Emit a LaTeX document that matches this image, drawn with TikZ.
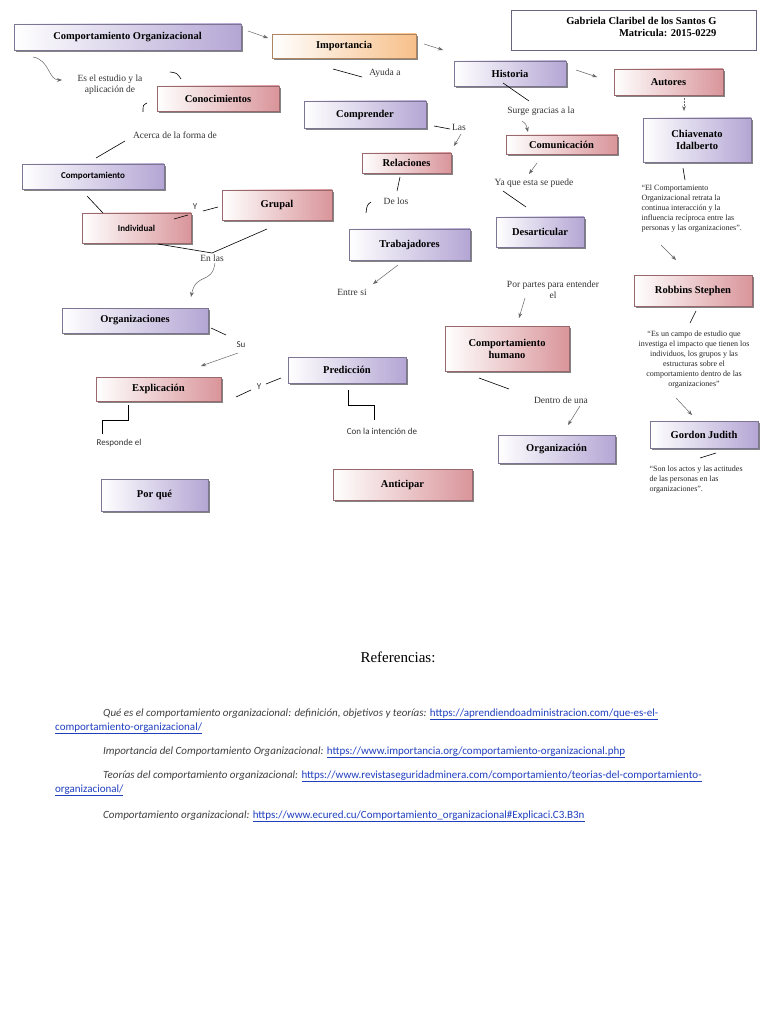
\documentclass[tikz,border=0pt]{standalone}
\usepackage{fontspec}
\setmainfont{Liberation Serif}
\newfontfamily\sansf{Carlito}
\usetikzlibrary{shadows,arrows.meta}
\definecolor{pboxc}{HTML}{B4A6D4}
\definecolor{rboxc}{HTML}{D9959A}
\definecolor{oboxc}{HTML}{F7C08A}
\definecolor{linkc}{HTML}{1F3FBF}
\newcommand{\reflink}[1]{\textcolor{linkc}{\upshape\underline{#1}}}

\begin{document}
\begin{tikzpicture}[x=1pt,y=-1pt,
    box/.style={draw=#1!70!black, line width=0.5pt, left color=white, right color=#1,
        drop shadow={shadow xshift=2pt, shadow yshift=-2pt, fill=black!60, opacity=0.8},
        font=\fontsize{10.5}{12}\selectfont\bfseries, align=center, inner sep=1pt},
    pbox/.style={box=pboxc},
    rbox/.style={box=rboxc},
    obox/.style={box=oboxc},
    lab/.style={font=\fontsize{9.5}{11}\selectfont, align=center, text=black!80},
    slab/.style={font=\sansf\fontsize{9}{10.5}\selectfont, align=center, text=black!80},
    quote/.style={font=\fontsize{8}{10}\selectfont, text=black!85},
    arr/.style={-{Stealth[length=5pt]}, gray!80!black, line width=0.5pt},
    ln/.style={black, line width=0.6pt}]
    \useasboundingbox (0,0) rectangle (768,1024);
    \fill[white] (0,0) rectangle (768,1024);
    % boxes
    \node[pbox, minimum width=227pt, minimum height=26pt] (corg) at (127.5,37) {Comportamiento Organizacional};
    \node[obox, minimum width=144pt, minimum height=24pt] (imp) at (344,46) {Importancia};
    \node[draw=pboxc!60!black, line width=0.8pt, minimum width=245pt, minimum height=40pt] (hdr) at (633.5,30) {};
    \node[font=\fontsize{10.5}{12}\selectfont\bfseries, align=right, anchor=north east] at (720,14) {Gabriela Claribel de los Santos G\\Matricula: 2015-0229};
    \node[pbox, minimum width=112pt, minimum height=25pt] (hist) at (510,73.5) {Historia};
    \node[rbox, minimum width=109pt, minimum height=26pt] (aut) at (668.5,82) {Autores};
    \node[rbox, minimum width=122pt, minimum height=25pt] (conoc) at (218,98.5) {Conocimientos};
    \node[pbox, minimum width=122pt, minimum height=27pt] (compr) at (365,114.5) {Comprender};
    \node[pbox, minimum width=108pt, minimum height=44pt] (chia) at (697,140) {Chiavenato\\Idalberto};
    \node[rbox, minimum width=111pt, minimum height=19pt] (comu) at (561.5,144.5) {Comunicación};
    \node[rbox, minimum width=89pt, minimum height=20pt] (rel) at (406.5,163) {Relaciones};
    \node[pbox, minimum width=142pt, minimum height=25pt, font=\sansf\fontsize{9}{10}\selectfont\bfseries] (cmp) at (93,176.5) {Comportamiento};
    \node[rbox, minimum width=110pt, minimum height=30pt] (grup) at (277,205) {Grupal};
    \node[rbox, minimum width=109pt, minimum height=30pt, font=\sansf\fontsize{9}{10}\selectfont\bfseries] (indiv) at (136.5,228) {Individual};
    \node[pbox, minimum width=88pt, minimum height=30pt] (desa) at (540,232) {Desarticular};
    \node[pbox, minimum width=121pt, minimum height=31pt] (trab) at (409.5,244.5) {Trabajadores};
    \node[rbox, minimum width=118pt, minimum height=31pt] (robb) at (693,290.5) {Robbins Stephen};
    \node[pbox, minimum width=146pt, minimum height=25pt] (orgs) at (135,320.5) {Organizaciones};
    \node[rbox, minimum width=124pt, minimum height=45pt] (chum) at (507,348.5) {Comportamiento\\humano};
    \node[pbox, minimum width=118pt, minimum height=26pt] (pred) at (347,370) {Predicción};
    \node[rbox, minimum width=125pt, minimum height=24pt] (expl) at (158.5,389) {Explicación};
    \node[pbox, minimum width=108pt, minimum height=27pt] (gord) at (704,434.5) {Gordon Judith};
    \node[pbox, minimum width=117pt, minimum height=28pt] (orgn) at (556.5,449) {Organización};
    \node[pbox, minimum width=107pt, minimum height=32pt] (porq) at (154.5,495) {Por qué};
    \node[rbox, minimum width=139pt, minimum height=31pt] (anti) at (402.5,484.5) {Anticipar};
    % labels
    \node[lab] (estud) at (110,85) {Es el estudio y la\\aplicación de};
    \node[lab] (ayuda) at (385,73) {Ayuda a};
    \node[lab] (acerca) at (175,135) {Acerca de la forma de};
    \node[lab] (surge) at (541,111) {Surge gracias a la};
    \node[lab] (las) at (459,127) {Las};
    \node[lab] (yaque) at (534,183) {Ya que esta se puede};
    \node[lab] (delos) at (396,201) {De los};
    \node[slab] (y1) at (195,207) {Y};
    \node[lab] (enlas) at (212,258) {En las};
    \node[lab] (entre) at (352,292) {Entre si};
    \node[lab] (porpar) at (553,290) {Por partes para entender\\el};
    \node[slab] (su) at (241,345) {Su};
    \node[slab] (y2) at (259,387) {Y};
    \node[slab] (resp) at (119,443) {Responde el};
    \node[slab] (conla) at (382,431) {Con la intención de};
    \node[lab] (dentro) at (561,400) {Dentro de una};
    \node[quote, anchor=north west, align=left] (q1) at (638,181) {``El Comportamiento\\Organizacional retrata la\\continua interacción y la\\influencia recíproca entre las\\personas y las organizaciones''.};
    \node[quote, align=center] (q2) at (694,360) {``Es un campo de estudio que\\investiga el impacto que tienen los\\individuos, los grupos y las\\estructuras sobre el\\comportamiento dentro de las\\organizaciones''};
    \node[quote, anchor=north west, align=left] (q3) at (646,462) {``Son los actos y las actitudes\\de las personas en las\\organizaciones''.};
    % connectors
    \draw[arr] (248,31) -- (268,38);
    \draw[arr] (424,44) -- (443,50);
    \draw[arr] (576,70) -- (597,77);
    \draw[arr, densely dotted] (684,98) -- (684,111);
    \draw[arr] (33,57) .. controls (50,60) and (48,80) .. (62,80);
    \draw[ln] (170,72) .. controls (177,73) .. (181,79);
    \draw[ln] (143,112) .. controls (143,105) .. (147,103);
    \draw[ln] (96,158) -- (125,141);
    \draw[ln] (333,69) -- (362,77);
    \draw[ln] (503,83) -- (529,101);
    \draw[arr] (522,121) .. controls (526,124) .. (528,132);
    \draw[ln] (434,126) -- (450,129);
    \draw[arr] (461,134) -- (454,146);
    \draw[arr] (537,163) -- (529,174);
    \draw[ln] (503,191) -- (526,207);
    \draw[ln] (400,177) -- (397,191);
    \draw[ln] (366,213) .. controls (367,205) .. (371,202);
    \draw[ln] (87,196) -- (103,213);
    \draw[ln] (174,219) -- (188,215);
    \draw[ln] (203,211) -- (218,207);
    \draw[ln] (158,244) -- (212,253) -- (267,229);
    \draw[arr] (215,263) .. controls (212,285) and (196,272) .. (191,297);
    \draw[arr] (398,265) -- (373,284);
    \draw[arr] (525,298) -- (519,318);
    \draw[ln] (211,328) -- (226,335);
    \draw[arr] (238,353) -- (201,366);
    \draw[ln] (236,397) -- (251,390);
    \draw[ln] (266,384) -- (281,378);
    \draw[ln] (128,405) -- (128,420) -- (102,420) -- (102,434);
    \draw[ln] (348,390) -- (348,405) -- (374,405) -- (374,420);
    \draw[ln] (479,378) -- (509,389);
    \draw[arr] (580,406) -- (568,425);
    \draw[ln] (683,168) -- (685,180);
    \draw[arr] (661,245) -- (676,260);
    \draw[ln] (696,311) -- (690,323);
    \draw[arr] (676,398) -- (692,415);
    \draw[ln] (700,458) -- (716,453);
    % references
    \node[font=\fontsize{15}{18}\selectfont] (refs) at (398,657) {Referencias:};
    \begin{scope}[every node/.style={anchor=base west, font=\sansf\itshape\fontsize{11}{13}\selectfont, text=black!75, inner sep=0pt}]
        \node (r1) at (103,716) {Qué es el comportamiento organizacional: definición, objetivos y teorías: \reflink{https://aprendiendoadministracion.com/que-es-el-}};
        \node (r1b) at (55,730) {\reflink{comportamiento-organizacional/}};
        \node (r2) at (103,754) {Importancia del Comportamiento Organizacional: \reflink{https://www.importancia.org/comportamiento-organizacional.php}};
        \node (r3) at (103,778) {Teorías del comportamiento organizacional: \reflink{https://www.revistaseguridadminera.com/comportamiento/teorias-del-comportamiento-}};
        \node (r3b) at (55,792) {\reflink{organizacional/}};
        \node (r4) at (103,818) {Comportamiento organizacional: \reflink{https://www.ecured.cu/Comportamiento\_organizacional\#Explicaci.C3.B3n}};
    \end{scope}
\end{tikzpicture}
\end{document}
